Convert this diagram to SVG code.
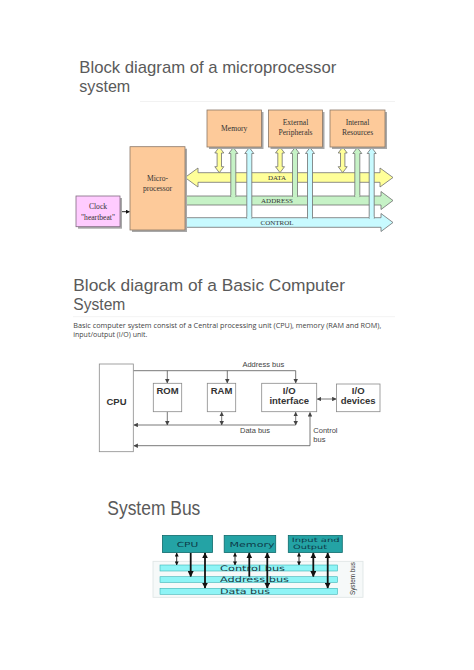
<svg xmlns="http://www.w3.org/2000/svg" width="474" height="670" viewBox="0 0 474 670">
<defs>
<style>
.title{font-family:"Liberation Sans",Arial,sans-serif;fill:#5a5a5a}
.body{font-family:"Open Sans","Liberation Sans",sans-serif;font-size:7.4px;fill:#444}
.serif{font-family:"Liberation Serif",serif;font-size:7.6px;fill:#333;text-anchor:middle}
.bus{font-family:"Liberation Serif",serif;font-size:7px;fill:#333;text-anchor:middle}
.peach{fill:#fdca9a;stroke:#8a7868;stroke-width:0.8}
.shadow{fill:#a8a8a8}
.yel{fill:#ffff99;stroke:#707070;stroke-width:0.8}
.grn{fill:#c6f2c6;stroke:#707070;stroke-width:0.8}
.cyn{fill:#c8faff;stroke:#707070;stroke-width:0.8}
.box2{fill:#fff;stroke:#8a8a8a;stroke-width:0.8}
.ln2{fill:none;stroke:#555;stroke-width:0.8}
.b2{font-family:"Liberation Sans",Arial,sans-serif;font-size:9.5px;font-weight:bold;fill:#333;text-anchor:middle}
.l2{font-family:"Liberation Sans",Arial,sans-serif;font-size:7.5px;fill:#444}
.teal{fill:#24a3a5;stroke:#0e6a6c;stroke-width:0.8}
.tbar{fill:#8ef4f6;stroke:#3fb4b6;stroke-width:0.6}
.t3{font-family:"DejaVu Sans",Verdana,sans-serif;fill:#0d3a48}
.bl3{font-family:"DejaVu Sans",Verdana,sans-serif;font-size:7.6px;fill:#1a3a44}
.ar1{fill:none;stroke:#111;stroke-width:0.9}
.ar2{fill:none;stroke:#111;stroke-width:1.8}
</style>
<marker id="ah" viewBox="0 0 10 10" refX="9" refY="5" markerWidth="4.5" markerHeight="4.5" orient="auto-start-reverse" markerUnits="userSpaceOnUse"><path d="M0,0 L10,5 L0,10 z" fill="#444"/></marker>
<marker id="ahk" viewBox="0 0 10 10" refX="9" refY="5" markerWidth="6" markerHeight="6" orient="auto-start-reverse" markerUnits="userSpaceOnUse"><path d="M0,0 L10,5 L0,10 z" fill="#111"/></marker>
<marker id="ahs" viewBox="0 0 10 10" refX="9" refY="5" markerWidth="4" markerHeight="4" orient="auto-start-reverse" markerUnits="userSpaceOnUse"><path d="M0,0 L10,5 L0,10 z" fill="#111"/></marker>
</defs>
<rect width="474" height="670" fill="#fff"/>

<!-- Section 1 -->
<g id="title1">
<text class="title" x="79.3" y="73.3" font-size="16.4" textLength="257" lengthAdjust="spacingAndGlyphs">Block diagram of a microprocessor</text>
<text class="title" x="79.3" y="91.8" font-size="16.4" textLength="51" lengthAdjust="spacingAndGlyphs">system</text>
</g>
<line x1="140" y1="101.5" x2="395" y2="101.5" stroke="#efefef" stroke-width="0.8"/>

<g id="bus-data">
<polygon class="yel" points="185,177.5 198,168 198,172.7 380,172.7 380,168 393,177.5 380,187 380,182.3 198,182.3 198,187"/>
</g>
<g id="bus-address">
<polygon class="grn" points="185,196 381,196 381,191.5 393,200.5 381,209.5 381,205 185,205"/>
</g>
<g id="bus-control">
<polygon class="cyn" points="185,217.7 381,217.7 381,213.5 393,222.5 381,231.5 381,227.3 185,227.3"/>
</g>

<g id="connectors1">
<polygon class="yel" points="219.3,147 223.8,153 221.5,153 221.5,166.7 223.8,166.7 219.3,172.7 214.8,166.7 217.1,166.7 217.1,153 214.8,153"/>
<polygon class="yel" points="280,147 284.5,153 282.2,153 282.2,166.7 284.5,166.7 280,172.7 275.5,166.7 277.8,166.7 277.8,153 275.5,153"/>
<polygon class="yel" points="342.7,147 347.2,153 344.9,153 344.9,166.7 347.2,166.7 342.7,172.7 338.2,166.7 340.5,166.7 340.5,153 338.2,153"/>
<polygon class="grn" points="233.3,147.5 237.8,153.5 235.8,153.5 235.8,196.6 230.8,196.6 230.8,153.5 228.8,153.5"/>
<rect x="231.2" y="195" width="4.2" height="2.6" fill="#c6f2c6"/>
<polygon class="grn" points="295,147.5 299.5,153.5 297.5,153.5 297.5,196.6 292.5,196.6 292.5,153.5 290.5,153.5"/>
<rect x="292.9" y="195" width="4.2" height="2.6" fill="#c6f2c6"/>
<polygon class="grn" points="357.3,147.5 361.8,153.5 359.8,153.5 359.8,196.6 354.8,196.6 354.8,153.5 352.8,153.5"/>
<rect x="355.2" y="195" width="4.2" height="2.6" fill="#c6f2c6"/>
<polygon class="cyn" points="249.3,147.5 253.8,153.5 251.8,153.5 251.8,218.3 246.8,218.3 246.8,153.5 244.8,153.5"/>
<rect x="247.2" y="216.7" width="4.2" height="2.6" fill="#c8faff"/>
<polygon class="cyn" points="310,147.5 314.5,153.5 312.5,153.5 312.5,218.3 307.5,218.3 307.5,153.5 305.5,153.5"/>
<rect x="307.9" y="216.7" width="4.2" height="2.6" fill="#c8faff"/>
<polygon class="cyn" points="371.7,147.5 376.2,153.5 374.2,153.5 374.2,218.3 369.2,218.3 369.2,153.5 367.2,153.5"/>
<rect x="369.6" y="216.7" width="4.2" height="2.6" fill="#c8faff"/>
<line x1="120.5" y1="211.7" x2="129.5" y2="211.7" stroke="#111" stroke-width="0.9" marker-end="url(#ahs)"/>
</g>
<text class="bus" x="277" y="180">DATA</text>
<text class="bus" x="277" y="203">ADDRESS</text>
<text class="bus" x="277" y="225.3">CONTROL</text>

<g id="memory">
<rect class="shadow" x="209" y="112" width="54.5" height="37"/>
<rect class="peach" x="207" y="110" width="54.5" height="37"/>
<text class="serif" x="234.2" y="131">Memory</text>
</g>
<g id="external">
<rect class="shadow" x="270.5" y="112" width="54" height="37"/>
<rect class="peach" x="268.5" y="110" width="54" height="37"/>
<text class="serif" x="295.5" y="125">External</text>
<text class="serif" x="295.5" y="135">Peripherals</text>
</g>
<g id="internal">
<rect class="shadow" x="332" y="112" width="55" height="37"/>
<rect class="peach" x="330" y="110" width="55" height="37"/>
<text class="serif" x="357.5" y="125">Internal</text>
<text class="serif" x="357.5" y="135">Resources</text>
</g>
<g id="microprocessor">
<rect class="shadow" x="132" y="148.7" width="55" height="83.3"/>
<rect class="peach" x="130" y="146.7" width="55" height="83.3"/>
<text class="serif" x="157.5" y="180.5">Micro-</text>
<text class="serif" x="157.5" y="191">processor</text>
</g>
<g id="clock">
<rect class="shadow" x="78" y="198" width="44" height="30.7"/>
<rect x="76" y="196" width="44" height="30.7" fill="#ffccff" stroke="#806a80" stroke-width="0.8"/>
<text class="serif" x="98" y="209">Clock</text>
<text class="serif" x="98" y="220">&quot;heartbeat&quot;</text>
</g>

<!-- Section 2 -->
<g id="title2">
<text class="title" x="73.3" y="290.7" font-size="16.8" textLength="271.7" lengthAdjust="spacingAndGlyphs">Block diagram of a Basic Computer</text>
<text class="title" x="73.3" y="310" font-size="16.8" textLength="52" lengthAdjust="spacingAndGlyphs">System</text>
</g>
<line x1="73" y1="316.7" x2="395" y2="316.7" stroke="#efefef" stroke-width="0.8"/>
<g id="body2">
<text class="body" x="73.3" y="327.8" textLength="308" lengthAdjust="spacingAndGlyphs">Basic computer system consist of a Central processing unit (CPU), memory (RAM and ROM),</text>
<text class="body" x="73.3" y="337.4" textLength="74" lengthAdjust="spacingAndGlyphs">input/output (I/O) unit.</text>
</g>

<g id="connectors2">
<path class="ln2" d="M133.3,370.7 H295.7"/>
<line class="ln2" x1="167.3" y1="370.7" x2="167.3" y2="383" marker-end="url(#ah)"/>
<line class="ln2" x1="227.3" y1="370.7" x2="227.3" y2="383" marker-end="url(#ah)"/>
<line class="ln2" x1="295.7" y1="370.7" x2="295.7" y2="383" marker-end="url(#ah)"/>
<line class="ln2" x1="295.7" y1="425" x2="133.8" y2="425" marker-end="url(#ah)"/>
<line class="ln2" x1="167.3" y1="411.7" x2="167.3" y2="425" marker-end="url(#ah)"/>
<line class="ln2" x1="221.7" y1="412.2" x2="221.7" y2="425" marker-start="url(#ah)" marker-end="url(#ah)"/>
<line class="ln2" x1="295.7" y1="412.2" x2="295.7" y2="425" marker-start="url(#ah)" marker-end="url(#ah)"/>
<path class="ln2" d="M310,445.7 V412.5" marker-end="url(#ah)"/>
<line class="ln2" x1="310" y1="445.7" x2="133.8" y2="445.7" marker-end="url(#ah)"/>
<line class="ln2" x1="317.2" y1="399" x2="336.2" y2="399" marker-start="url(#ah)" marker-end="url(#ah)"/>
</g>
<text class="l2" x="263.3" y="367.3" text-anchor="middle">Address bus</text>
<text class="l2" x="255" y="432.5" text-anchor="middle">Data bus</text>
<text class="l2" x="313.3" y="432.5">Control</text>
<text class="l2" x="313.3" y="441.8">bus</text>

<g id="cpu2">
<rect class="box2" x="99.3" y="364" width="34" height="87.7"/>
<text class="b2" x="116.5" y="405">CPU</text>
</g>
<g id="rom">
<rect class="box2" x="153.3" y="383.3" width="28.4" height="28.4"/>
<text class="b2" x="167.5" y="394">ROM</text>
</g>
<g id="ram">
<rect class="box2" x="207.3" y="383.3" width="28.4" height="28.4"/>
<text class="b2" x="221.5" y="394">RAM</text>
</g>
<g id="io-interface">
<rect class="box2" x="261.7" y="383.3" width="55" height="28.4"/>
<text class="b2" x="289.2" y="394">I/O</text>
<text class="b2" x="289.2" y="404.2">interface</text>
</g>
<g id="io-devices">
<rect class="box2" x="336.5" y="384" width="43.5" height="27.7"/>
<text class="b2" x="358.2" y="394">I/O</text>
<text class="b2" x="358.2" y="404.2">devices</text>
</g>

<!-- Section 3 -->
<g id="title3">
<text class="title" x="107.3" y="515" font-size="20" textLength="93" lengthAdjust="spacingAndGlyphs">System Bus</text>
</g>
<g id="system-bus">
<rect x="153" y="561.3" width="210" height="36" fill="#f6f9f9" stroke="#dde3e3" stroke-width="0.8"/>
<rect class="tbar" x="160" y="565" width="177.5" height="6"/>
<rect class="tbar" x="160" y="576.7" width="177.5" height="5.8"/>
<rect class="tbar" x="160" y="588.3" width="177.5" height="6"/>
<text class="bl3" x="220" y="570.6" textLength="65" lengthAdjust="spacingAndGlyphs">Control bus</text>
<text class="bl3" x="220" y="582.4" textLength="69" lengthAdjust="spacingAndGlyphs">Address bus</text>
<text class="bl3" x="220" y="594.2" textLength="50" lengthAdjust="spacingAndGlyphs">Data bus</text>
<text font-family="Liberation Sans Narrow,Liberation Sans,sans-serif" font-size="8" fill="#333" text-anchor="middle" transform="translate(355,578.5) rotate(-90)" textLength="33" lengthAdjust="spacingAndGlyphs">System bus</text>
</g>
<g id="cpu3">
<rect class="teal" x="162.5" y="535.5" width="50" height="17"/>
<text class="t3" x="176.7" y="546.5" font-size="7" textLength="21.6" lengthAdjust="spacingAndGlyphs">CPU</text>
</g>
<g id="memory3">
<rect class="teal" x="224.2" y="535.5" width="51.5" height="17"/>
<text class="t3" x="229.5" y="546.5" font-size="7" textLength="45" lengthAdjust="spacingAndGlyphs">Memory</text>
</g>
<g id="io3">
<rect class="teal" x="288.3" y="535.5" width="54" height="17"/>
<text class="t3" x="291.7" y="542" font-size="6" textLength="48" lengthAdjust="spacingAndGlyphs">Input and</text>
<text class="t3" x="293" y="548.5" font-size="6" textLength="34" lengthAdjust="spacingAndGlyphs">Output</text>
</g>
<g id="connectors3">
<line class="ar1" x1="176.7" y1="553" x2="176.7" y2="565" marker-start="url(#ahs)" marker-end="url(#ahs)"/>
<line class="ar2" x1="190.7" y1="553" x2="190.7" y2="576.5" marker-end="url(#ahk)"/>
<line class="ar2" x1="205" y1="553" x2="205" y2="588" marker-start="url(#ahk)" marker-end="url(#ahk)"/>
<line class="ar1" x1="235" y1="553" x2="235" y2="565" marker-start="url(#ahs)" marker-end="url(#ahs)"/>
<line class="ar2" x1="249.3" y1="576.7" x2="249.3" y2="553" marker-end="url(#ahk)"/>
<line class="ar2" x1="267.3" y1="553" x2="267.3" y2="588" marker-start="url(#ahk)" marker-end="url(#ahk)"/>
<line class="ar1" x1="299" y1="553" x2="299" y2="565" marker-start="url(#ahs)" marker-end="url(#ahs)"/>
<line class="ar2" x1="313.3" y1="553" x2="313.3" y2="576.5" marker-start="url(#ahk)" marker-end="url(#ahk)"/>
<line class="ar2" x1="327.7" y1="553" x2="327.7" y2="588" marker-start="url(#ahk)" marker-end="url(#ahk)"/>
</g>
</svg>
